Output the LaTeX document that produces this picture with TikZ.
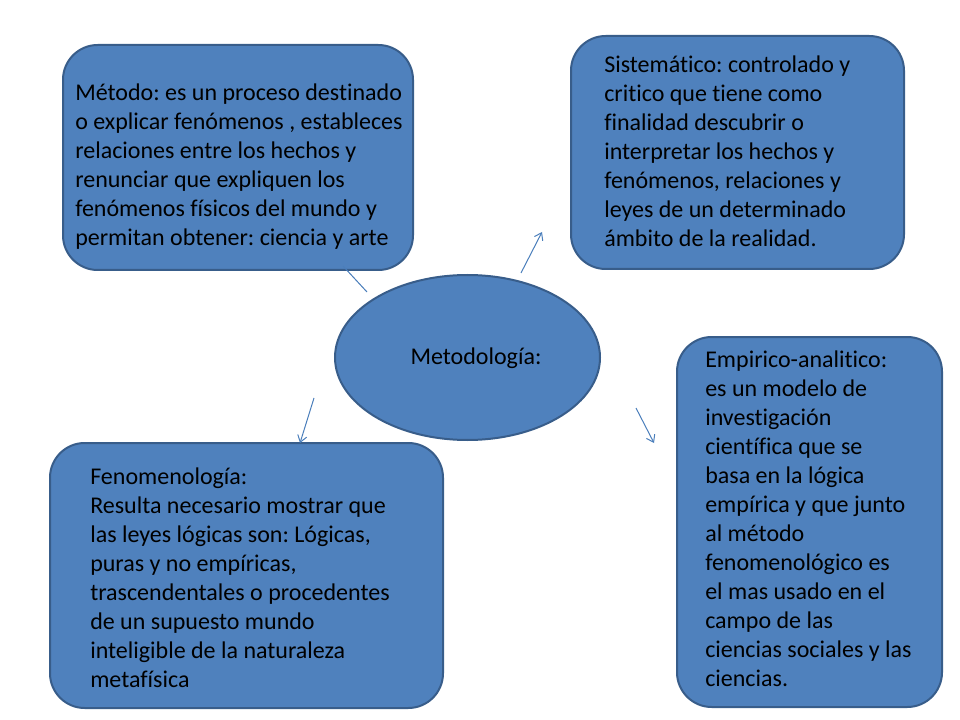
\documentclass[tikz,border=0pt]{standalone}
\usepackage{fontspec}
\setmainfont[Ligatures=CommonOff]{Carlito}
\frenchspacing
\usetikzlibrary{arrows,arrows.meta,shapes,positioning}
\definecolor{mpfill}{RGB}{79,129,189}
\definecolor{mpborder}{RGB}{56,93,138}
\definecolor{mpline}{RGB}{74,126,187}
\tikzstyle{caja} = [draw=mpborder, line width=1.5pt, fill=mpfill, rounded corners=26pt]
\tikzstyle{texto} = [anchor=north west, inner sep=0pt, align=left, text=black, font=\fontsize{18pt}{21.75pt}\selectfont]
\tikzstyle{conector} = [line width=0.75pt, color=mpline]
\tikzstyle{flecha} = [line width=0.75pt, ->, >={Straight Barb[length=5pt,width=7pt]}, color=mpline]

\begin{document}
\begin{tikzpicture}[x=0.75pt, y=-0.75pt]
\useasboundingbox (0,0) rectangle (960,720);

% Boxes
\node[caja, minimum width=262.5pt, minimum height=168.75pt] (metodo) at (238,157.5) {};
\node[caja, minimum width=249.75pt, minimum height=174.75pt] (sistema) at (737.5,152.5) {};
\node[caja, minimum width=198.75pt, minimum height=277.5pt] (empirico) at (809.5,522) {};
\node[caja, minimum width=294.75pt, minimum height=198.75pt] (fenomeno) at (246.5,575.5) {};
\node[ellipse, draw=mpborder, line width=1.5pt, fill=mpfill, minimum width=198.75pt, minimum height=123.75pt] (centro) at (467.5,357.5) {};

% Texts
\node[texto] (metodotxt) at (75,84) {Método: es un proceso destinado\\o explicar fenómenos , estableces\\relaciones entre los hechos y\\renunciar que expliquen los\\fenómenos físicos del mundo y\\permitan obtener: ciencia y arte};
\node[texto] (sistematxt) at (604,56) {Sistemático: controlado y\\critico que tiene como\\finalidad descubrir o\\interpretar los hechos y\\fenómenos, relaciones y\\leyes de un determinado\\ámbito de la realidad.};
\node[texto] (empiricotxt) at (705,351) {Empirico-analitico:\\es un modelo de\\investigación\\científica que se\\basa en la lógica\\empírica y que junto\\al método\\fenomenológico es\\el mas usado en el\\campo de las\\ciencias sociales y las\\ciencias.};
\node[texto] (fenomenotxt) at (90,468) {Fenomenología:\\Resulta necesario mostrar que\\las leyes lógicas son: Lógicas,\\puras y no empíricas,\\trascendentales o procedentes\\de un supuesto mundo\\inteligible de la naturaleza\\metafísica};
\node[texto, anchor=center] (centrotxt) at (476,358) {Metodología:};

% Connectors
\coordinate (c1) at (367,292);
\coordinate (m1) at (343,266);
\coordinate (c2) at (521,273);
\coordinate (s1) at (542,232);
\coordinate (c3) at (314,398);
\coordinate (f1) at (300,443);
\coordinate (c4) at (636,408);
\coordinate (e1) at (654,443);
\draw[conector] (c1) -- (m1);
\draw[flecha] (c2) -- (s1);
\draw[flecha] (c3) -- (f1);
\draw[flecha] (c4) -- (e1);
\end{tikzpicture}
\end{document}
